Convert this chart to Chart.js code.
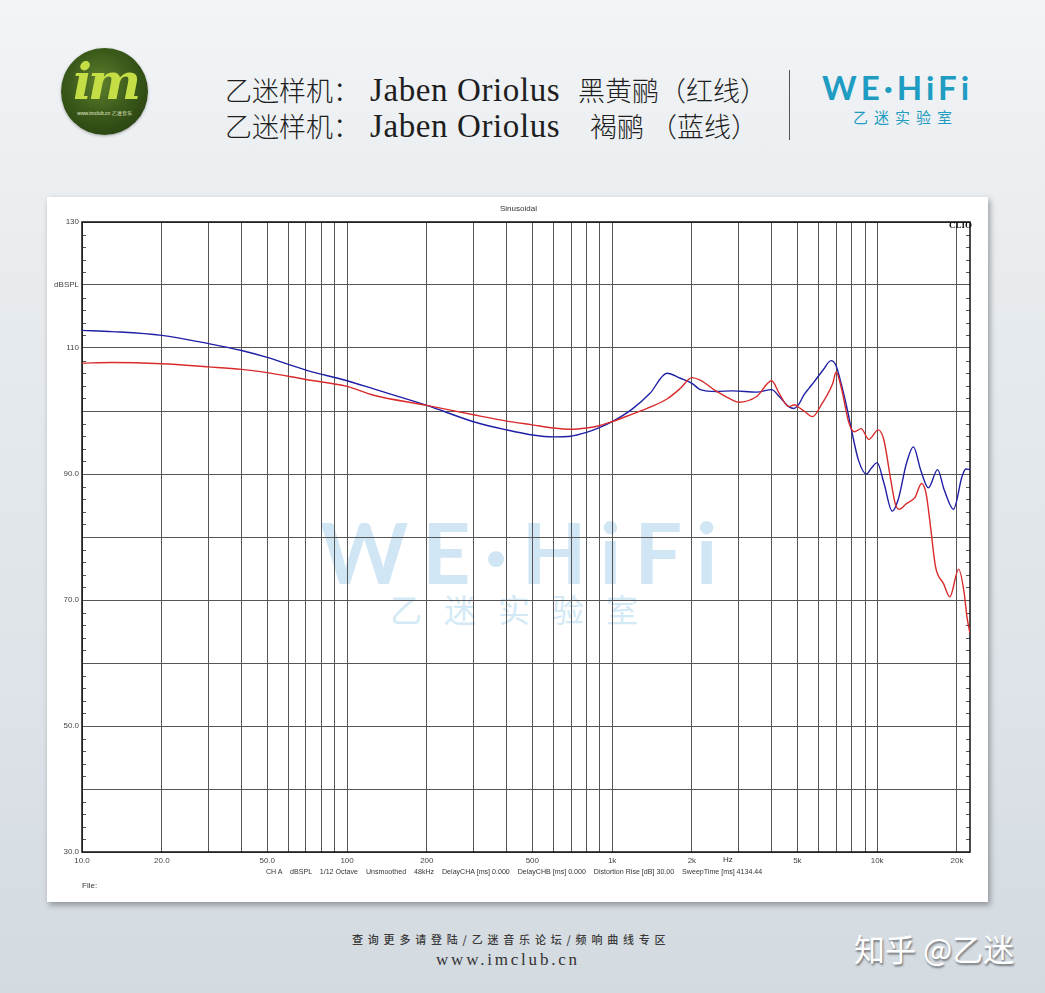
<!DOCTYPE html>
<html>
<head>
<meta charset="utf-8">
<script src="https://cdn.jsdelivr.net/npm/chart.js@4.4.0/dist/chart.umd.min.js"></script>
<style>
  html, body { margin: 0; padding: 0; }
  body {
    width: 1045px; height: 993px; position: relative; overflow: hidden;
    background: linear-gradient(180deg, #f2f4f6 0%, #e7ebee 30%, #dde3e8 70%, #d3dae0 100%);
    font-family: "Liberation Sans", Arial, sans-serif;
  }
  .abs { position: absolute; white-space: pre; }
  #logo {
    position: absolute; left: 61px; top: 48px; width: 87px; height: 87px; border-radius: 50%;
    background: radial-gradient(circle at 45% 40%, #5e7f2e 0%, #3b5a1a 45%, #20360b 100%);
    box-shadow: 0 1px 3px rgba(0,0,0,0.3);
  }
  #logo .im {
    position: absolute; left: 6px; top: 4px; width: 76px; text-align: center;
    font-family: "DejaVu Serif", serif; font-style: italic; font-weight: bold; font-size: 50px;
    color: #c6de46; letter-spacing: -4px;
  }
  #logo .small {
    position: absolute; left: 10px; top: 62px; width: 67px; text-align: center;
    font-size: 5px; color: #e8f0d0;
  }
  .title {
    left: 225px; font-size: 27px; line-height: 36px; color: #1e1e1e; font-weight: 300;
    font-family: "Noto Sans CJK SC", sans-serif;
  }
  .title span { display: inline-block; }
  .title .lat {
    font-family: "Liberation Serif", serif; font-weight: normal; font-size: 33px; letter-spacing: 0.6px;
  }
  #divider { position: absolute; left: 789px; top: 70px; width: 1px; height: 70px; background: #555; }
  #wehifi {
    left: 822px; top: 67px; font-family: Lato, sans-serif; font-weight: 700; font-size: 33px;
    color: #1e9cc1; letter-spacing: 4px;
  }
  #wehifiSub {
    left: 853px; top: 106px; font-family: "Noto Sans CJK SC", sans-serif; font-size: 15px;
    color: #1e9cc1; letter-spacing: 6px;
  }
  #panel {
    position: absolute; left: 47px; top: 197px; width: 941px; height: 705px; background: #fff;
    box-shadow: 2px 3px 6px rgba(0,0,0,0.35);
  }
  #wmMain {
    left: 273px; top: 304px; font-family: Lato, sans-serif; font-weight: 700; font-size: 84px;
    color: #d0e6f4; letter-spacing: 14px;
  }
  #wmSub {
    left: 343px; top: 388px; font-family: "Noto Sans CJK SC", sans-serif; font-size: 32px;
    color: #d4e9f6; letter-spacing: 22px;
  }
  #chartCanvas { position: absolute; left: 0; top: 0; }
  .small8 { font-size: 8px; color: #333; }
  #info { font-size: 7.1px; color: #333; }
  #footer1 {
    left: 352px; top: 931px; font-family: "Noto Sans CJK SC", sans-serif; font-size: 11px;
    color: #3a3a3a; letter-spacing: 4.8px; font-weight: 500;
  }
  #footer2 {
    left: 436px; top: 950px; font-family: "Liberation Serif", serif; font-size: 17px; color: #333;
    letter-spacing: 2.8px;
  }
  #zhihu {
    left: 854px; top: 925px; font-family: "Noto Sans CJK SC", sans-serif; font-size: 31px;
    color: #fff; text-shadow: 1px 2px 2px rgba(0,0,0,0.45);
  }
</style>
</head>
<body>
<div id="logo"><div class="im">im</div><div class="small">www.imclub.cn 乙迷音乐</div></div>
<div class="abs title" style="top:72px;"><span style="width:145px">乙迷样机：</span><span class="lat" style="width:208px">Jaben Oriolus</span><span>黑黄鹂（红线）</span></div>
<div class="abs title" style="top:108px;"><span style="width:145px">乙迷样机：</span><span class="lat" style="width:220px">Jaben Oriolus</span><span>褐鹂 （蓝线）</span></div>
<div id="divider"></div>
<div class="abs" id="wehifi">WE·HiFi</div>
<div class="abs" id="wehifiSub">乙迷实验室</div>

<div id="panel">
  <div class="abs" id="wmMain">WE·HiFi</div>
  <div class="abs" id="wmSub">乙迷实验室</div>
  <canvas id="chartCanvas" width="941" height="705"></canvas>
  <div class="abs small8" style="left:453px; top:7px;">Sinusoidal</div>
  <div class="abs" style="left:902px; top:23px; font-family:'Liberation Serif',serif; font-weight:bold; font-size:9px; color:#111;">CLIO</div>
  <div class="abs small8" style="left:676px; top:658px;">Hz</div>
  <div class="abs" id="info" style="left:219px; top:671px;">CH A    dBSPL    1/12 Octave    Unsmoothed    48kHz    DelayCHA [ms] 0.000    DelayCHB [ms] 0.000    Distortion Rise [dB] 30.00    SweepTime [ms] 4134.44</div>
  <div class="abs small8" style="left:35px; top:684px;">File:</div>
</div>

<div class="abs" id="footer1">查询更多请登陆/乙迷音乐论坛/频响曲线专区</div>
<div class="abs" id="footer2">www.imclub.cn</div>
<div class="abs" id="zhihu">知乎 @乙迷</div>

<script>
// blue: 褐鹂
const blueFreq = [10, 13, 20, 30, 40, 50, 70, 100, 126, 200, 300, 400, 500, 600, 700, 800, 900, 1000,
  1190, 1390, 1610, 1810, 2000, 2150, 2480, 2860, 3510, 4000, 4270, 4640, 4850, 5050, 5300, 5530,
  5800, 6250, 6700, 6980, 7360, 7700, 8000, 8500, 9100, 9500, 10000, 10600, 11400, 12000, 12900,
  13700, 14600, 15600, 16900, 17900, 19400, 20900, 21600, 22400];
const blueDb = [112.8, 112.6, 112.0, 110.7, 109.6, 108.5, 106.5, 104.8, 103.5, 100.9, 98.3, 97.0, 96.2,
  95.9, 96.0, 96.6, 97.4, 98.3, 100.3, 102.8, 106.0, 105.2, 104.4, 103.4, 103.1, 103.2, 103.0, 103.4,
  102.3, 100.7, 100.4, 101.0, 102.6, 103.6, 104.7, 106.5, 108.0, 107.3, 103.9, 100.4, 97.0, 92.2,
  90.0, 90.9, 91.8, 88.6, 84.1, 85.9, 91.7, 94.3, 90.6, 87.8, 90.7, 87.5, 84.4, 89.6, 90.8, 90.7];

// red: 黑黄鹂
const redFreq = [10, 13, 20, 30, 40, 50, 70, 100, 126, 200, 300, 400, 500, 600, 700, 800, 900, 1000,
  1190, 1390, 1610, 1810, 2000, 2150, 2480, 2860, 3000, 3510, 4000, 4270, 4640, 4900, 5050, 5300,
  5700, 6200, 6800, 7000, 7360, 7800, 8200, 8700, 9300, 10100, 10600, 11200, 11700, 12100, 12900,
  13900, 14700, 15300, 15900, 16600, 17800, 18800, 20300, 21300, 21800, 22400];
const redDb = [107.6, 107.7, 107.5, 107.0, 106.6, 106.1, 105.0, 103.9, 102.5, 100.9, 99.4, 98.4, 97.8,
  97.3, 97.1, 97.3, 97.7, 98.3, 99.5, 100.6, 101.9, 103.6, 105.3, 104.9, 103.1, 101.7, 101.4, 102.3,
  104.8, 102.8, 100.7, 101.0, 100.6, 100.0, 99.1, 101.2, 104.4, 106.2, 103.3, 98.3, 96.7, 97.2, 95.5,
  97.0, 95.4, 89.6, 85.3, 84.4, 85.3, 86.3, 88.5, 86.9, 81.6, 75.3, 72.6, 70.5, 74.9, 71.1, 67.4, 64.7];

// axis ticks and labels
const xGridValues = [10, 20, 30, 40, 50, 60, 70, 80, 90, 100, 200, 300, 400, 500, 600, 700, 800, 900,
  1000, 2000, 3000, 4000, 5000, 6000, 7000, 8000, 9000, 10000, 20000];
const xTickLabels = { 10: '10.0', 20: '20.0', 50: '50.0', 100: '100', 200: '200', 500: '500',
  1000: '1k', 2000: '2k', 5000: '5k', 10000: '10k', 20000: '20k' };
const yTickLabels = { 130: '130', 120: 'dBSPL', 110: '110', 90: '90.0', 70: '70.0', 50: '50.0', 30: '30.0' };

const toPoints = (xs, ys) => xs.map((x, i) => ({ x: x, y: ys[i] }));

// small inner ticks every 2 dB and the black frame
const frameAndTicks = {
  id: 'frameAndTicks',
  beforeDatasetsDraw(chart) {
    const { ctx, chartArea: a } = chart;
    const ys = chart.scales.y;
    ctx.save();
    ctx.strokeStyle = '#555';
    ctx.lineWidth = 1;
    ys.ticks.forEach(t => {
      if (t.value % 10 === 0) return;
      const y = Math.round(ys.getPixelForValue(t.value)) + 0.5;
      ctx.beginPath();
      ctx.moveTo(a.left, y); ctx.lineTo(a.left + 4, y);
      ctx.moveTo(a.right - 4, y); ctx.lineTo(a.right, y);
      ctx.stroke();
    });
    ctx.strokeStyle = '#111';
    ctx.lineWidth = 1.5;
    ctx.strokeRect(a.left, a.top, a.right - a.left, a.bottom - a.top);
    ctx.restore();
  }
};

new Chart(document.getElementById('chartCanvas'), {
  type: 'line',
  data: {
    datasets: [
      {
        label: '黑黄鹂',
        data: toPoints(redFreq, redDb),
        borderColor: '#d92b2b',
        borderWidth: 1.4,
        pointRadius: 0,
        cubicInterpolationMode: 'monotone'
      },
      {
        label: '褐鹂',
        data: toPoints(blueFreq, blueDb),
        borderColor: '#1f1fa5',
        borderWidth: 1.4,
        pointRadius: 0,
        cubicInterpolationMode: 'monotone'
      }
    ]
  },
  options: {
    responsive: false,
    animation: false,
    layout: { padding: { top: 25, right: 18, left: 0, bottom: 0 } },
    plugins: { legend: { display: false }, tooltip: { enabled: false } },
    scales: {
      x: {
        type: 'logarithmic',
        min: 10,
        max: 22400,
        afterBuildTicks: scale => { scale.ticks = xGridValues.map(v => ({ value: v })); },
        afterFit: scale => { scale.height = 50; },
        grid: { color: '#555', lineWidth: 1, drawTicks: false },
        border: { display: false },
        ticks: {
          autoSkip: false,
          maxRotation: 0,
          padding: 4,
          color: '#444',
          font: { size: 8, family: 'Liberation Sans' },
          callback: value => xTickLabels[value] || ''
        }
      },
      y: {
        min: 30,
        max: 130,
        afterFit: scale => { scale.width = 35; },
        grid: {
          color: ctx => (ctx.tick && ctx.tick.value % 10 === 0) ? '#555' : 'rgba(0,0,0,0)',
          lineWidth: 1,
          drawTicks: false
        },
        border: { display: false },
        ticks: {
          stepSize: 2,
          autoSkip: false,
          padding: 3,
          color: '#444',
          font: { size: 8, family: 'Liberation Sans' },
          callback: value => yTickLabels[value] || ''
        }
      }
    }
  },
  plugins: [frameAndTicks]
});
</script>
</body>
</html>
